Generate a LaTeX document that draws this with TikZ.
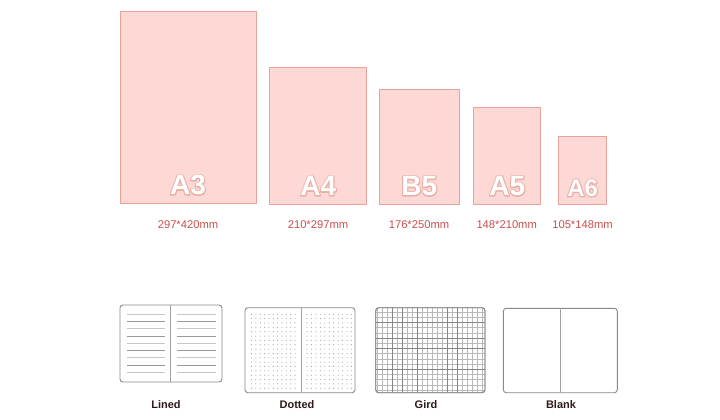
\documentclass[tikz,border=0pt]{standalone}
\usepackage{fontspec}
\setmainfont{Liberation Sans}
\definecolor{sheetfill}{HTML}{FDD8D4}
\definecolor{sheetline}{HTML}{E6A59C}
\definecolor{sizecol}{HTML}{C9504C}
\definecolor{namecol}{HTML}{2E1C1C}
\definecolor{bookline}{HTML}{8A8A8A}
\newcommand{\strokedtext}[1]{{\color{white}\rlap{\special{pdf:code q 2 Tr 2.2 w 1 j 0.914 0.686 0.651 RG}#1\special{pdf:code Q}}#1}}
\tikzset{
  sheet/.style={fill=sheetfill, draw=sheetline, line width=0.8pt, inner sep=0pt, outer sep=0pt, anchor=south west},
  biglbl/.style={font=\fontsize{28}{28}\selectfont\bfseries, inner sep=0pt},
  sizelbl/.style={font=\fontsize{11.2}{12}\selectfont, text=sizecol, inner sep=0pt},
  book/.style={draw=bookline, line width=0.9pt, rounded corners=3pt, inner sep=0pt, outer sep=0pt, anchor=north west, fill=white},
  spine/.style={draw=bookline!80, line width=0.8pt},
  namelbl/.style={font=\fontsize{11}{12}\selectfont\bfseries, text=namecol, inner sep=0pt},
  lnlight/.style={draw=gray!45, line width=1.1pt},
  lndark/.style={draw=gray!80, line width=1.1pt},
  grlight/.style={draw=gray!55, line width=0.6pt},
  grdark/.style={draw=gray!95, line width=0.8pt},
  dotst/.style={fill=gray!75}
}
\begin{document}
\begin{tikzpicture}[x=1pt,y=-1pt]
\useasboundingbox[fill=white] (0,0) rectangle (720,420);
% paper sheets
\node[sheet, minimum width=136pt, minimum height=192pt] (a3) at (120,203) {};
\node[sheet, minimum width=97pt, minimum height=137pt] (a4) at (269.5,204) {};
\node[sheet, minimum width=80.5pt, minimum height=115pt] (b5) at (379,204) {};
\node[sheet, minimum width=67.5pt, minimum height=96.5pt] (a5) at (473.3,204) {};
\node[sheet, minimum width=48.5pt, minimum height=68pt] (a6) at (558.3,204) {};
% big labels
\node[biglbl] (a3l) at (188,185) {\strokedtext{A3}};
\node[biglbl] (a4l) at (318.3,186) {\strokedtext{A4}};
\node[biglbl] (b5l) at (419.3,186) {\strokedtext{B5}};
\node[biglbl] (a5l) at (507.3,186) {\strokedtext{A5}};
\node[biglbl, font=\fontsize{24}{24}\selectfont\bfseries] (a6l) at (582.7,188) {\strokedtext{A6}};
% size labels
\node[sizelbl] (a3s) at (188,225) {297*420mm};
\node[sizelbl] (a4s) at (318,225) {210*297mm};
\node[sizelbl] (b5s) at (419,225) {176*250mm};
\node[sizelbl] (a5s) at (506.7,225) {148*210mm};
\node[sizelbl] (a6s) at (582.5,225) {105*148mm};
% Lined notebook
\node[book, minimum width=102pt, minimum height=77pt] (lined) at (120,305) {};
\draw[spine] (170.5,305) -- (170.5,382);
\foreach \i in {0,...,8} {
  \pgfmathsetmacro{\yy}{314.3+7.25*\i}
  \ifodd\i
    \draw[lndark] (126.7,\yy) -- (165,\yy) (176.7,\yy) -- (216,\yy);
  \else
    \draw[lnlight] (126.7,\yy) -- (165,\yy) (176.7,\yy) -- (216,\yy);
  \fi
}
% Dotted notebook
\node[book, minimum width=110pt, minimum height=85pt] (dotted) at (245,307.7) {};
\draw[spine] (301,307.7) -- (301,392.7);
\foreach \c in {0,...,10} {
  \foreach \r in {0,...,17} {
    \fill[dotst] ({251.5+4.35*\c},{314.3+4.35*\r}) circle (0.55pt);
    \fill[dotst] ({307+4.45*\c},{314.3+4.35*\r}) circle (0.55pt);
  }
}
% Grid notebook
\node[book, minimum width=109.3pt, minimum height=85pt] (gird) at (375.7,307.7) {};
\begin{scope}
\clip[rounded corners=3pt] (gird.north west) rectangle (gird.south east);
\foreach \k in {0,...,21} {
  \pgfmathsetmacro{\xx}{377.5+5*\k}
  \draw[grlight] (\xx,307.7) -- (\xx,392.7);
}
\foreach \k in {0,...,15} {
  \pgfmathsetmacro{\yy}{312+5.2*\k}
  \draw[grlight] (375.7,\yy) -- (485,\yy);
}
\foreach \k in {3,5,8,14,16} {
  \pgfmathsetmacro{\xx}{377.5+5*\k}
  \draw[grdark] (\xx,307.7) -- (\xx,392.7);
}
\foreach \k in {2,5,7,11} {
  \pgfmathsetmacro{\yy}{312+5.2*\k}
  \draw[grdark] (375.7,\yy) -- (485,\yy);
}
\end{scope}
\draw[draw=bookline, line width=0.9pt, rounded corners=3pt] (gird.north west) rectangle (gird.south east);
% Blank notebook
\node[book, minimum width=114pt, minimum height=84.4pt] (blank) at (503.3,308.3) {};
\draw[spine] (560.7,308.3) -- (560.7,392.7);
% names
\node[namelbl] (linedl) at (166,405) {Lined};
\node[namelbl] (dottedl) at (297,405) {Dotted};
\node[namelbl] (girdl) at (426,405) {Gird};
\node[namelbl] (blankl) at (561,405) {Blank};
\end{tikzpicture}
\end{document}
